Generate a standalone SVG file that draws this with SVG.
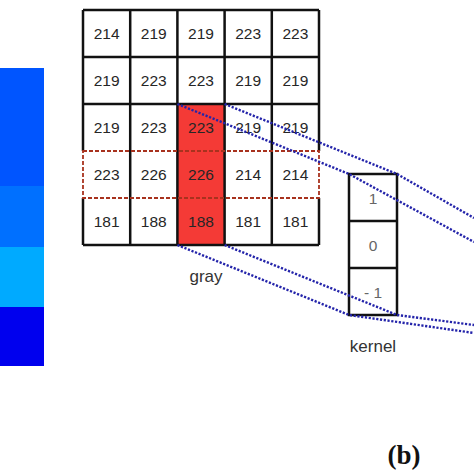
<svg xmlns="http://www.w3.org/2000/svg" width="474" height="474" viewBox="0 0 474 474">
<style>
.num{font-family:"Liberation Sans",Arial,sans-serif;font-size:15.5px;fill:#262626;text-anchor:middle}
.knum{font-family:"Liberation Sans",Arial,sans-serif;font-size:15.5px;fill:#666;text-anchor:middle}
.lbl{font-family:"Liberation Sans",Arial,sans-serif;font-size:17px;fill:#333;text-anchor:middle}
.gl{stroke:#111;stroke-width:2.5;fill:none}
.rd{stroke:#a8321e;stroke-width:1.8;stroke-dasharray:4 2;fill:none}
.dot{stroke:#2424aa;stroke-width:2.4;stroke-dasharray:2.2 1.6;fill:none}
</style>
<rect width="474" height="474" fill="#fff"/>
<g id="colorbar">
<rect x="0" y="68" width="44" height="118" fill="#0055ff"/>
<rect x="0" y="186" width="44" height="61" fill="#0070ff"/>
<rect x="0" y="247" width="44" height="60" fill="#00aaff"/>
<rect x="0" y="307" width="44" height="59" fill="#0000ee"/>
</g>
<g id="gray-grid">
<rect x="177.4" y="104" width="47.2" height="141" fill="#f43a36"/>
<path class="gl" d="M83 10V151M83 198V245M130.2 10V245M177.4 10V245M224.6 10V245M271.8 10V245M319 10V151M319 198V245M83 10H319M83 57H319M83 104H319M83 245H319"/>
<rect class="rd" x="83" y="151" width="236" height="47"/>
<g>
<text class="num" x="106.6" y="38.5">214</text><text class="num" x="153.8" y="38.5">219</text><text class="num" x="201" y="38.5">219</text><text class="num" x="248.2" y="38.5">223</text><text class="num" x="295.4" y="38.5">223</text>
<text class="num" x="106.6" y="85.5">219</text><text class="num" x="153.8" y="85.5">223</text><text class="num" x="201" y="85.5">223</text><text class="num" x="248.2" y="85.5">219</text><text class="num" x="295.4" y="85.5">219</text>
<text class="num" x="106.6" y="132.5">219</text><text class="num" x="153.8" y="132.5">223</text><text class="num" x="201" y="132.5">223</text><text class="num" x="248.2" y="132.5">219</text><text class="num" x="295.4" y="132.5">219</text>
<text class="num" x="106.6" y="179.5">223</text><text class="num" x="153.8" y="179.5">226</text><text class="num" x="201" y="179.5">226</text><text class="num" x="248.2" y="179.5">214</text><text class="num" x="295.4" y="179.5">214</text>
<text class="num" x="106.6" y="226.5">181</text><text class="num" x="153.8" y="226.5">188</text><text class="num" x="201" y="226.5">188</text><text class="num" x="248.2" y="226.5">181</text><text class="num" x="295.4" y="226.5">181</text>
</g>
<text class="lbl" x="206" y="282">gray</text>
</g>
<g id="kernel">
<rect class="gl" x="349" y="174" width="48" height="141"/>
<path class="gl" d="M349 221H397M349 268H397"/>
<text class="knum" x="373" y="203.5">1</text>
<text class="knum" x="373" y="250.5">0</text>
<text class="knum" x="373" y="297.5">- 1</text>
<text class="lbl" x="373" y="352">kernel</text>
</g>
<g id="connectors">
<polyline class="dot" points="224.6,104 397,174 474,218"/>
<polyline class="dot" points="177.4,104 349,174 474,242"/>
<polyline class="dot" points="224.6,245 397,315 474,325"/>
<polyline class="dot" points="177.4,245 349,315 474,333"/>
</g>
<text x="404" y="464" font-family="'Liberation Serif','Times New Roman',serif" font-weight="bold" font-size="27" fill="#111" text-anchor="middle">(b)</text>
</svg>
